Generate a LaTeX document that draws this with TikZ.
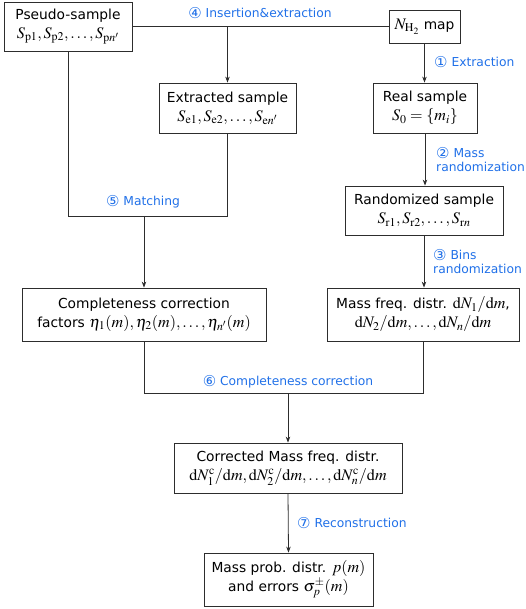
\documentclass[tikz,border=0pt]{standalone}
\usepackage{mathptmx}
\usepackage[no-math]{fontspec}
\setmainfont{DejaVu Sans}[Scale=0.857]
\usetikzlibrary{arrows.meta}
\definecolor{lblue}{RGB}{32,112,232}
\definecolor{lgray}{RGB}{45,45,45}
\newcommand{\circd}[1]{\raisebox{-0.08em}{\fontsize{17.5}{14}\selectfont #1}}
\begin{document}
\begin{tikzpicture}[x=1pt,y=-1pt,
  box/.style={draw=lgray,line width=0.8pt,fill=white,align=center,inner sep=0pt,
    font=\fontsize{16.1}{19}\selectfont},
  lab/.style={text=lblue,font=\fontsize{14.35}{14}\selectfont,inner sep=0pt},
  conn/.style={draw=lgray,line width=0.8pt},
  arr/.style={conn,-{Stealth[length=6pt,width=4.5pt]}}]
\useasboundingbox (0,0) rectangle (525,609);
\node[box,minimum width=128pt,minimum height=49pt] (ps) at (68,26.5)
  {Pseudo-sample\\$S_{\mathrm{p}1},S_{\mathrm{p}2},\ldots,S_{\mathrm{p}n'}$};
\node[box,minimum width=71pt,minimum height=33pt] (nh) at (424.5,26.5)
  {$N_{\mathrm{H}_2}$ map};
\node[box,minimum width=137pt,minimum height=50pt] (ex) at (227.5,108)
  {Extracted sample\\$S_{\mathrm{e}1},S_{\mathrm{e}2},\ldots,S_{\mathrm{e}n'}$};
\node[box,minimum width=104pt,minimum height=50pt] (rs) at (425,108)
  {Real sample\\$S_0=\{m_i\}$};
\node[box,minimum width=158pt,minimum height=49pt] (rz) at (424,210.5)
  {Randomized sample\\$S_{\mathrm{r}1},S_{\mathrm{r}2},\ldots,S_{\mathrm{r}n}$};
\node[box,minimum width=192pt,minimum height=53pt] (mf) at (423,314.5)
  {Mass freq. distr. $\mathrm{d}N_1/\mathrm{d}m$,\\$\mathrm{d}N_2/\mathrm{d}m,\ldots,\mathrm{d}N_n/\mathrm{d}m$};
\node[box,minimum width=244pt,minimum height=53pt] (cc) at (144,314.5)
  {Completeness correction\\factors $\eta_1(m),\eta_2(m),\ldots,\eta_{n'}(m)$};
\node[box,minimum width=228pt,minimum height=50pt] (co) at (288,468)
  {Corrected Mass freq. distr.\\$\mathrm{d}N^{\mathrm{c}}_1/\mathrm{d}m,\mathrm{d}N^{\mathrm{c}}_2/\mathrm{d}m,\ldots,\mathrm{d}N^{\mathrm{c}}_n/\mathrm{d}m$};
\node[box,minimum width=169pt,minimum height=53pt] (fi) at (288.5,579.5)
  {Mass prob. distr. $p(m)$\\and errors $\sigma_p^{\pm}(m)$};
% connectors
\coordinate (hm) at (0,216);
\coordinate (hc) at (0,393);
\draw[conn] (ps.east) -- (nh.west);
\draw[arr] (ex.north |- ps.east) -- (ex.north);
\draw[arr] (nh.south) -- (nh.south |- rs.north);
\draw[arr] (rs.south) -- (rs.south |- rz.north);
\draw[arr] (rz.south) -- (rz.south |- mf.north);
\draw[conn] (ps.south) -- (ps.south |- hm) -- (ex.south |- hm) -- (ex.south);
\draw[arr] (cc.north |- hm) -- (cc.north);
\draw[conn] (cc.south) -- (cc.south |- hc) -- (mf.south |- hc) -- (mf.south);
\draw[arr] (co.north |- hc) -- (co.north);
\draw[arr] (co.south) -- (fi.north);
% labels
\node[lab] (l4) at (260,13) {\circd{④} Insertion\&extraction};
\node[lab,anchor=west] (l1) at (434,62) {\circd{①} Extraction};
\node[lab,anchor=west,align=left] (l2) at (436,160) {\circd{②} Mass\\randomization};
\node[lab,anchor=west,align=left] (l3) at (433,261.5) {\circd{③} Bins\\randomization};
\node[lab] (l5) at (143,202) {\circd{⑤} Matching};
\node[lab] (l6) at (288,382) {\circd{⑥} Completeness correction};
\node[lab,anchor=west] (l7) at (297,523) {\circd{⑦} Reconstruction};
\end{tikzpicture}
\end{document}
